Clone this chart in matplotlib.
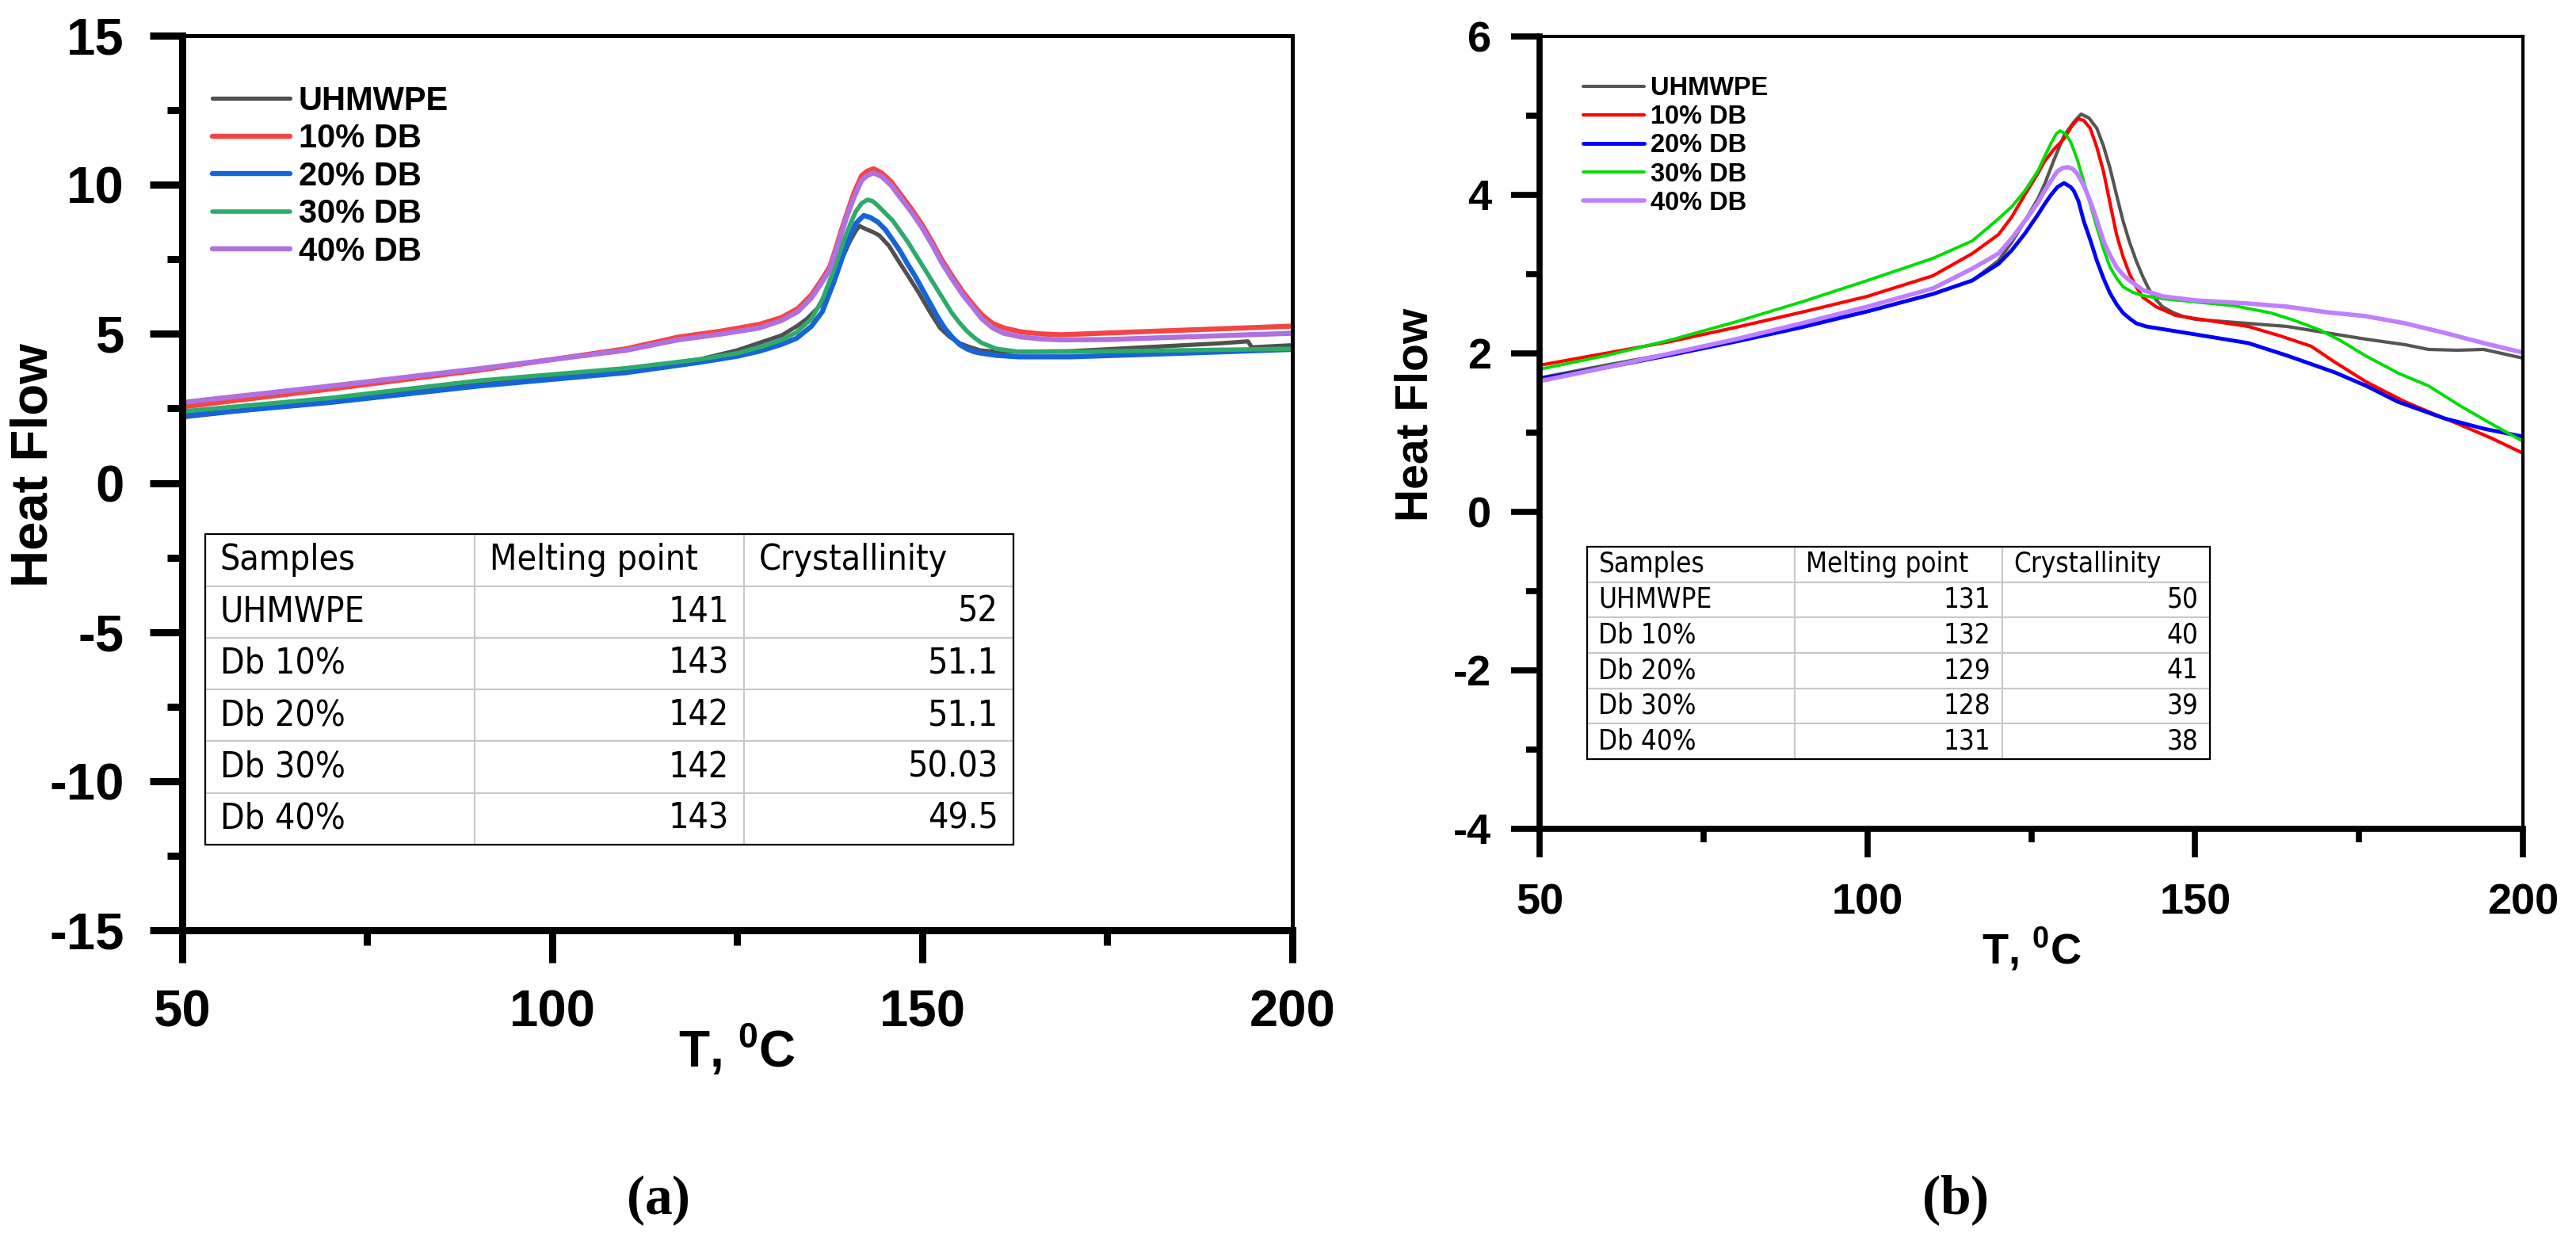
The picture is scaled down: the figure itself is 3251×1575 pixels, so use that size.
import matplotlib
matplotlib.use('Agg')
import matplotlib.pyplot as plt
import matplotlib.font_manager as fm
import numpy as np
from matplotlib.table import Table
from matplotlib.patches import Rectangle

plt.rcParams['font.family'] = ['Liberation Sans', 'DejaVu Sans']
plt.rcParams['font.weight'] = 'bold'
plt.rcParams['axes.unicode_minus'] = False
plt.rcParams['mathtext.fontset'] = 'custom'
plt.rcParams['mathtext.rm'] = 'Liberation Serif'
plt.rcParams['mathtext.bf'] = 'Liberation Serif:bold'
plt.rcParams['mathtext.sf'] = 'Liberation Sans:bold'


# tables in the original use a narrow sans; look for one, else plain Liberation Sans
def find_narrow():
    best = None
    for f in fm.fontManager.ttflist:
        narrow = ('Narrow' in f.name or 'Condensed' in f.name or
                  str(f.stretch) in ('condensed', 'semi-condensed'))
        regular = str(f.weight) in ('400', 'normal', 'regular', 'book') and f.style == 'normal'
        if narrow and regular and 'Mono' not in f.name and 'Serif' not in f.name:
            score = 0
            if 'Liberation' in f.name:
                score = 3
            elif 'Sans' in f.name:
                score = 2
            elif str(f.stretch) == 'semi-condensed':
                score = 1
            if best is None or score > best[0]:
                best = (score, f.fname)
    return best[1] if best else None


narrow_path = find_narrow()
if narrow_path:
    table_fp = fm.FontProperties(fname=narrow_path)
    tsize_a, tsize_b = 32, 25
else:
    table_fp = fm.FontProperties(family='Liberation Sans')
    tsize_a, tsize_b = 27, 22

labels = ['UHMWPE', '10% DB', '20% DB', '30% DB', '40% DB']

# ---------------- panel (a) data ----------------
a_gray_x = [50, 70, 90, 110, 120, 125, 128, 131, 133, 134.4, 136, 137.2, 138.3, 139.3, 140.2, 141, 141.5, 142.5,
            143.3, 144.2, 145.5, 146.9, 148.2, 149.6, 151, 152.4, 153.7, 155.1, 156.5, 157.8, 160, 163.3, 170,
            180, 190, 194, 194.5, 200]
a_gray_y = [2.2, 2.75, 3.3, 3.8, 4.15, 4.45, 4.7, 4.95, 5.25, 5.5, 5.9, 6.35, 6.9, 7.6, 8.1, 8.45, 8.62, 8.5,
            8.42, 8.3, 7.95, 7.4, 6.9, 6.35, 5.75, 5.2, 4.9, 4.68, 4.55, 4.45, 4.4, 4.4, 4.42,
            4.55, 4.68, 4.75, 4.55, 4.62]
a_red_x = [50, 70, 90, 110, 117, 123, 128, 131, 133.2, 135, 136.5, 137.5, 138.3, 139.1, 139.9, 140.8, 141.8,
           142.5, 143.4, 144.5, 145.8, 147, 148.5, 150, 151.3, 152.6, 154, 155.5, 156.8, 158, 159.5, 161,
           163.3, 166, 168.8, 175, 200]
a_red_y = [2.55, 3.15, 3.78, 4.5, 4.89, 5.1, 5.32, 5.55, 5.85, 6.3, 6.85, 7.25, 7.85, 8.5, 9.1, 9.75, 10.3,
           10.45, 10.54, 10.4, 10.1, 9.7, 9.2, 8.65, 8.1, 7.5, 6.95, 6.4, 6.0, 5.65, 5.35, 5.2,
           5.07, 5.0, 4.97, 5.03, 5.26]
a_blue_x = [50, 70, 90, 110, 120, 125, 128, 131, 133, 135, 136.5, 137.2, 138, 139.5, 140.3, 141, 141.6, 142.1,
            143, 144, 145, 146, 147, 148, 149, 150, 151, 152, 153, 154, 155, 156, 157, 158, 160, 163, 170,
            185, 200]
a_blue_y = [2.25, 2.7, 3.25, 3.7, 4.05, 4.25, 4.42, 4.65, 4.85, 5.25, 5.75, 6.2, 6.7, 7.8, 8.3, 8.7, 8.85, 8.97,
            8.9, 8.75, 8.5, 8.15, 7.78, 7.35, 6.95, 6.5, 6.05, 5.6, 5.2, 4.9, 4.65, 4.5, 4.4, 4.35, 4.28, 4.23,
            4.23, 4.35, 4.48]
a_green_x = [50, 70, 90, 110, 120, 125, 128, 131, 133, 135, 136.5, 137.2, 138, 139.5, 140.3, 141, 141.8, 142.6,
             143.3, 144, 145, 146, 147, 148, 149, 150, 151, 152, 153, 154, 155, 156, 157, 158, 160, 163, 170,
             185, 200]
a_green_y = [2.4, 2.85, 3.43, 3.85, 4.15, 4.35, 4.55, 4.8, 5.05, 5.5, 6.15, 6.6, 7.1, 8.2, 8.7, 9.1, 9.38, 9.5,
             9.45, 9.3, 9.05, 8.8, 8.45, 8.1, 7.7, 7.3, 6.9, 6.5, 6.1, 5.7, 5.38, 5.1, 4.88, 4.7, 4.5, 4.4,
             4.4, 4.45, 4.5]
a_purple_x = a_red_x
a_purple_y = [2.7, 3.25, 3.83, 4.45, 4.8, 5.0, 5.2, 5.45, 5.75, 6.2, 6.75, 7.15, 7.75, 8.4, 9.0, 9.6, 10.15,
              10.3, 10.4, 10.28, 9.98, 9.58, 9.1, 8.55, 8.0, 7.4, 6.85, 6.3, 5.9, 5.52, 5.2, 5.02,
              4.9, 4.83, 4.8, 4.81, 5.02]

# ---------------- panel (b) data ----------------
b_gray_x = [50, 60, 70, 80, 90, 100, 110, 116, 120, 122, 124, 126, 127, 128.5, 130, 131.5, 132.6, 133.8, 135,
            136, 137, 138, 139, 140, 141, 142, 143, 144, 145, 146.5, 148, 150, 164, 170, 176, 182, 185.6,
            190, 194, 200]
b_gray_y = [1.69, 1.85, 2.0, 2.17, 2.35, 2.53, 2.75, 2.92, 3.17, 3.4, 3.67, 3.95, 4.13, 4.45, 4.75, 4.92, 5.02,
            4.97, 4.84, 4.62, 4.34, 4.0, 3.67, 3.4, 3.17, 2.97, 2.8, 2.68, 2.59, 2.52, 2.47, 2.43, 2.34, 2.26,
            2.18, 2.11, 2.05, 2.04, 2.05, 1.94]
b_red_x = [50, 60, 70, 80, 90, 100, 110, 116, 120, 122, 124, 126, 127, 128.5, 130, 131.2, 132.1, 133, 134, 135,
           136, 137, 138, 139, 140, 141, 142, 144, 147, 150, 158.1, 163, 167.7, 171.3, 176.1, 182, 186,
           190.4, 195.2, 200]
b_red_y = [1.85, 2.0, 2.15, 2.33, 2.52, 2.72, 2.98, 3.26, 3.5, 3.72, 4.0, 4.27, 4.42, 4.58, 4.71, 4.87, 4.96,
           4.94, 4.84, 4.6, 4.3, 3.9, 3.5, 3.22, 3.0, 2.84, 2.71, 2.59, 2.48, 2.44, 2.34, 2.22, 2.09, 1.89,
           1.64, 1.39, 1.25, 1.1, 0.93, 0.74]
b_blue_x = [50, 60, 70, 80, 90, 100, 110, 116, 120, 122, 124, 126, 127, 128, 129, 130, 131, 131.5, 132.2, 133,
            134, 135, 136, 137, 138, 139, 140, 141, 142.5, 144, 147, 150, 158.1, 164.1, 171.3, 176.1, 180.9,
            188, 194, 200]
b_blue_y = [1.68, 1.82, 1.98, 2.15, 2.33, 2.53, 2.75, 2.92, 3.13, 3.3, 3.51, 3.75, 3.88, 4.0, 4.1, 4.15, 4.1,
            4.05, 3.92, 3.67, 3.43, 3.17, 2.95, 2.76, 2.62, 2.51, 2.44, 2.38, 2.34, 2.32, 2.28, 2.24, 2.13,
            1.97, 1.76, 1.59, 1.39, 1.18, 1.05, 0.95]
b_green_x = [50, 60, 70, 80, 90, 100, 110, 116, 120, 122, 124, 126, 127, 128, 128.8, 129.4, 130.2, 131, 132,
             133, 134, 135, 136, 137, 138, 139, 140.5, 142, 145, 150, 156, 161.6, 165, 168.9, 172, 176, 181,
             185.6, 190.4, 195, 200]
b_green_y = [1.8, 1.97, 2.17, 2.4, 2.65, 2.92, 3.2, 3.42, 3.7, 3.85, 4.05, 4.3, 4.48, 4.65, 4.77, 4.81, 4.77,
             4.67, 4.45, 4.17, 3.88, 3.59, 3.32, 3.09, 2.95, 2.84, 2.77, 2.73, 2.69, 2.65, 2.6, 2.51, 2.42,
             2.3, 2.17, 1.97, 1.75, 1.59, 1.34, 1.12, 0.89]
b_purple_x = [50, 60, 70, 80, 90, 100, 110, 116, 120, 122, 124, 126, 127, 128, 129, 129.8, 130.6, 131.3, 132,
              133, 134, 135, 136, 137, 138, 139, 140, 142, 145, 150, 158, 164, 170, 176, 182, 188, 194, 200]
b_purple_y = [1.65, 1.82, 2.0, 2.18, 2.38, 2.59, 2.82, 3.07, 3.26, 3.45, 3.67, 3.9, 4.05, 4.18, 4.3, 4.34,
              4.35, 4.33, 4.27, 4.12, 3.92, 3.68, 3.42, 3.24, 3.09, 2.99, 2.92, 2.8, 2.72, 2.67, 2.63, 2.59,
              2.52, 2.47, 2.38, 2.26, 2.13, 2.01]

# ---------------- tables ----------------
tab_header = ['Samples', 'Melting point', 'Crystallinity']
tab_a_samples = ['UHMWPE', 'Db 10%', 'Db 20%', 'Db 30%', 'Db 40%']
tab_a_melt = ['141', '143', '142', '142', '143']
tab_a_cryst = ['52', '51.1', '51.1', '50.03', '49.5']
tab_b_samples = ['UHMWPE', 'Db 10%', 'Db 20%', 'Db 30%', 'Db 40%']
tab_b_melt = ['131', '132', '129', '128', '131']
tab_b_cryst = ['50', '40', '41', '39', '38']

fig = plt.figure(figsize=(32.51, 15.75), dpi=100)
ax1 = fig.add_axes([0.0707, 0.2546, 0.4310, 0.7168])
ax2 = fig.add_axes([0.5977, 0.3359, 0.3817, 0.6349])

cols_a = ['#505050', '#f44545', '#1565d8', '#2eaa6a', '#b070e0']
lw_a = [3.8, 4.6, 4.6, 4.0, 4.6]
series_a = [(a_gray_x, a_gray_y), (a_red_x, a_red_y), (a_blue_x, a_blue_y),
            (a_green_x, a_green_y), (a_purple_x, a_purple_y)]
for (x, y), c, lw, lab in zip(series_a, cols_a, lw_a, labels):
    ax1.plot(x, y, color=c, lw=lw, label=lab, solid_capstyle='round', solid_joinstyle='round')

cols_b = ['#555555', '#ff0000', '#0000ff', '#00dd00', '#bf80ff']
lw_b = [3.0, 3.0, 3.5, 2.8, 4.0]
series_b = [(b_gray_x, b_gray_y), (b_red_x, b_red_y), (b_blue_x, b_blue_y),
            (b_green_x, b_green_y), (b_purple_x, b_purple_y)]
for (x, y), c, lw, lab in zip(series_b, cols_b, lw_b, labels):
    ax2.plot(x, y, color=c, lw=lw, label=lab, solid_capstyle='round', solid_joinstyle='round')


def style_axes(ax, ylim, yticks, yminor, tsize, maj, mino, spw, thin, xpad, ypad):
    ax.set_xlim(50, 200)
    ax.set_ylim(*ylim)
    ax.set_xticks([50, 100, 150, 200])
    ax.set_xticks([75, 125, 175], minor=True)
    ax.set_yticks(yticks)
    ax.set_yticks(yminor, minor=True)
    for s in ['left', 'bottom']:
        ax.spines[s].set_linewidth(spw)
    for s in ['top', 'right']:
        ax.spines[s].set_linewidth(thin)
    ax.tick_params(which='both', direction='out', top=False, right=False, width=spw)
    ax.tick_params(which='major', length=maj, labelsize=tsize)
    ax.tick_params(which='minor', length=mino)
    ax.tick_params(axis='x', which='major', pad=xpad)
    ax.tick_params(axis='y', which='major', pad=ypad)
    for lbl in ax.get_xticklabels() + ax.get_yticklabels():
        lbl.set_fontweight('bold')


style_axes(ax1, (-15, 15), np.arange(-15, 16, 5), np.arange(-12.5, 15, 5), 47, 29.5, 14, 6.5, 3.6, 24, 23)
style_axes(ax2, (-4, 6), np.arange(-4, 7, 2), np.arange(-3, 6, 2), 39, 26, 12.5, 5.5, 3.0, 23, 18)

ax1.set_ylabel('Heat Flow', fontsize=47, fontweight='bold', va='center')
ax1.yaxis.set_label_coords(-0.1335, 0.52)
ax1.set_xlabel(r'T, $^{\mathsf{0}}$C', fontsize=46, fontweight='bold', va='center')
ax1.xaxis.set_label_coords(0.5, -0.133)

ax2.set_ylabel('Heat Flow', fontsize=41, fontweight='bold', va='center')
ax2.yaxis.set_label_coords(-0.1265, 0.523)
ax2.set_xlabel(r'T, $^{\mathsf{0}}$C', fontsize=39, fontweight='bold', va='center')
ax2.xaxis.set_label_coords(0.5, -0.151)

ax1.legend(loc='upper left', bbox_to_anchor=(0.0271, 0.9445), frameon=False, borderpad=0,
           borderaxespad=0, handlelength=2.36, handletextpad=0.26, labelspacing=0.18,
           prop={'family': 'Liberation Sans', 'weight': 'bold', 'size': 30})
ax2.legend(loc='upper left', bbox_to_anchor=(0.0443, 0.950), frameon=False, borderpad=0,
           borderaxespad=0, handlelength=2.36, handletextpad=0.25, labelspacing=0.16,
           prop={'family': 'Liberation Sans', 'weight': 'bold', 'size': 23.5})


def add_table(ax, bbox, samples, melt, cryst, fsize, pad):
    tbl = Table(ax, bbox=bbox)
    w = 1.0 / 3
    h = 1.0 / 6
    for c, txt in enumerate(tab_header):
        tbl.add_cell(0, c, w, h, text=txt, loc='left', edgecolor='#c8c8c8', facecolor='white')
    for r, (s, m, k) in enumerate(zip(samples, melt, cryst), start=1):
        tbl.add_cell(r, 0, w, h, text=s, loc='left', edgecolor='#c8c8c8', facecolor='white')
        tbl.add_cell(r, 1, w, h, text=m, loc='right', edgecolor='#c8c8c8', facecolor='white')
        tbl.add_cell(r, 2, w, h, text=k, loc='right', edgecolor='#c8c8c8', facecolor='white')
    tbl.auto_set_font_size(False)
    for cell in tbl.get_celld().values():
        cell.PAD = pad
        cell.set_linewidth(1.5)
        cell.get_text().set_fontproperties(table_fp)
        cell.get_text().set_fontsize(fsize)
    tbl.set_zorder(3)
    ax.add_table(tbl)
    ax.add_patch(Rectangle((bbox[0], bbox[1]), bbox[2], bbox[3], transform=ax.transAxes,
                           fill=False, edgecolor='black', lw=1.6, zorder=4))


add_table(ax1, [0.0207, 0.0957, 0.728, 0.347], tab_a_samples, tab_a_melt, tab_a_cryst, tsize_a, 0.055)
add_table(ax2, [0.0483, 0.088, 0.633, 0.268], tab_b_samples, tab_b_melt, tab_b_cryst, tsize_b, 0.055)

fig.text(0.2553, 0.038, r'$(\mathbf{a})$', fontsize=50, ha='center', va='center')
fig.text(0.7588, 0.038, r'$(\mathbf{b})$', fontsize=50, ha='center', va='center')

fig.savefig('out.png', dpi=100)
